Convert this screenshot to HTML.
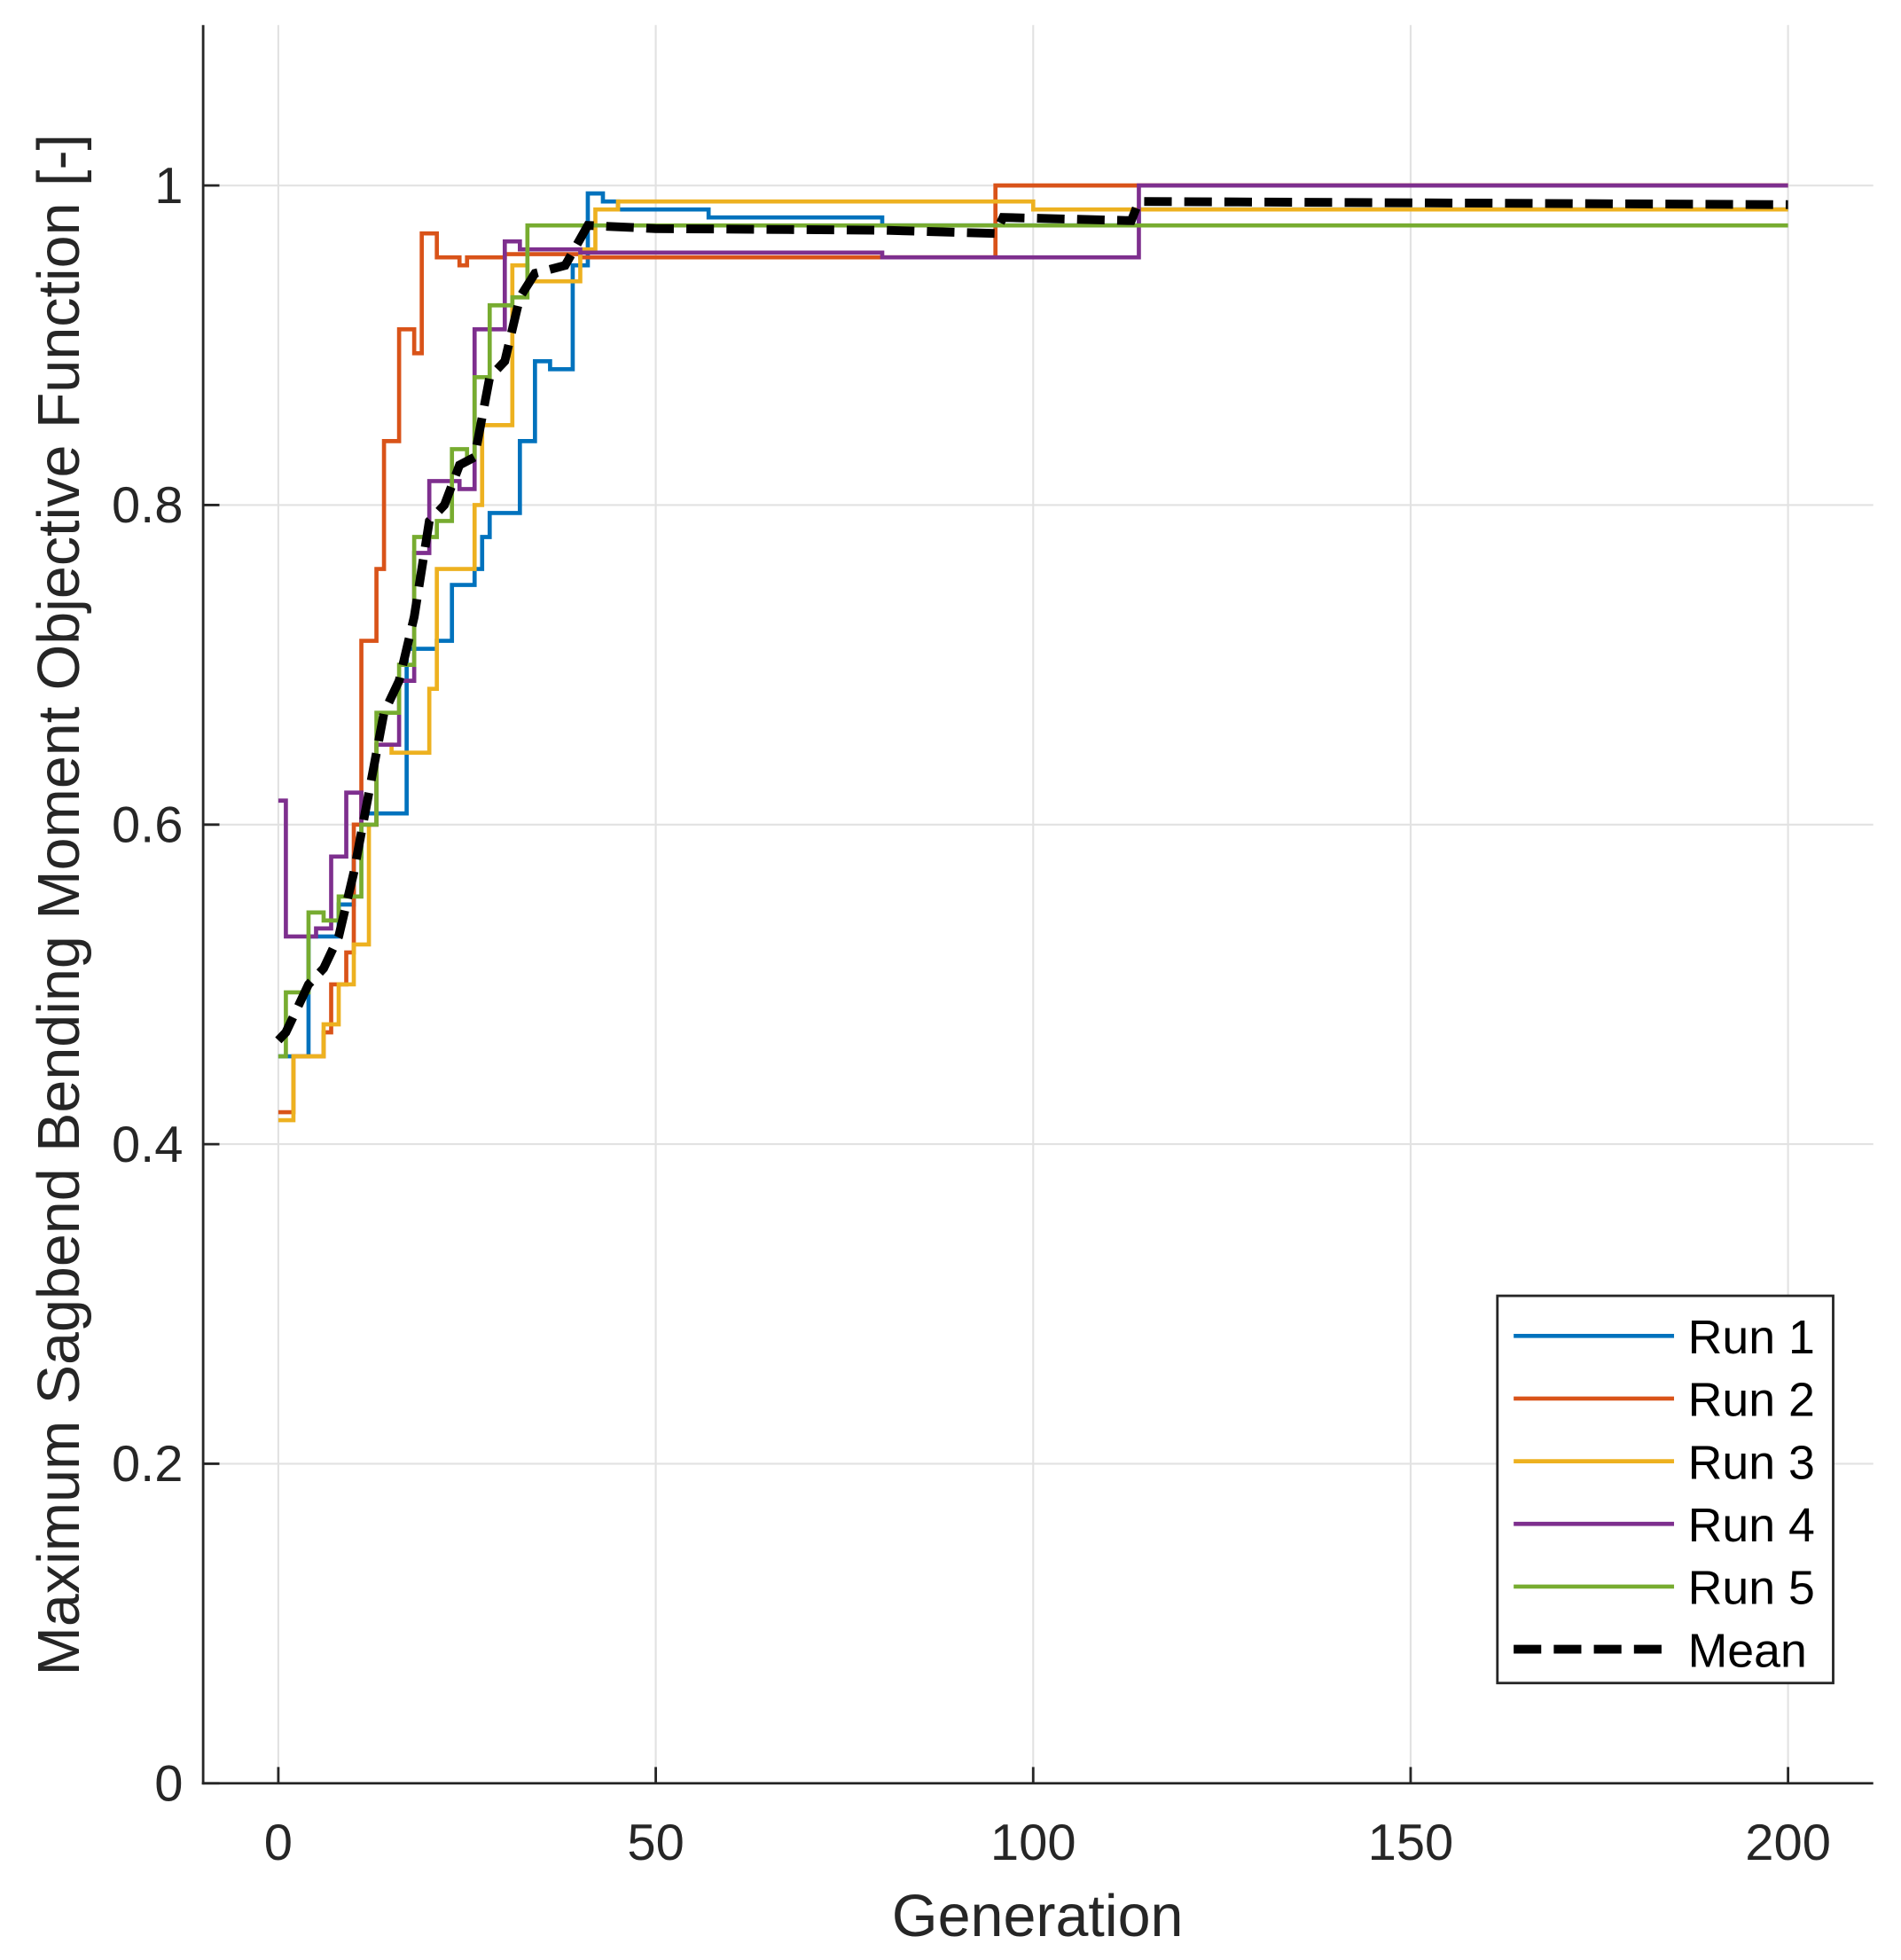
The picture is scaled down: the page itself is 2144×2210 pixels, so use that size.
<!DOCTYPE html>
<html><head><meta charset="utf-8"><style>html,body{margin:0;padding:0;background:#fff}svg{display:block}</style></head>
<body>
<svg id="s" width="2144" height="2210" viewBox="0 0 1517 1564" xmlns="http://www.w3.org/2000/svg" font-family="Liberation Sans, sans-serif">
<rect width="1517" height="1564" fill="#fff"/>
<g id="grid" stroke="#e2e2e2" stroke-width="1.5"></g>
<g id="series" fill="none" stroke-linejoin="miter"></g>
<g stroke="#262626" stroke-width="2" fill="none">
<line x1="162" y1="20" x2="162" y2="1424"/>
<line x1="161" y1="1423" x2="1495" y2="1423"/>
</g>
<g id="ticks" stroke="#262626" stroke-width="2"></g>
<g id="labels" fill="#262626" font-size="41"></g>
<text x="828" y="1545" text-anchor="middle" font-size="47" fill="#262626">Generation</text>
<text transform="translate(63,722) rotate(-90)" text-anchor="middle" font-size="47" fill="#262626">Maximum Sagbend Bending Moment Objective Function [-]</text>
<rect x="1195" y="1034" width="268" height="309" fill="#fff" stroke="#262626" stroke-width="2"/>
<g id="legend" font-size="38" fill="#000"></g>
</svg>
<script>
const NS="http://www.w3.org/2000/svg";
const X=g=>222+6.025*g, Y=v=>1423-1275*v;
function el(p,t,a,txt){const e=document.createElementNS(NS,t);for(const k in a)e.setAttribute(k,a[k]);if(txt!==undefined)e.textContent=txt;document.getElementById(p).appendChild(e);return e;}
[0,50,100,150,200].forEach(g=>{el('grid','line',{x1:X(g),y1:20,x2:X(g),y2:1423});el('ticks','line',{x1:X(g),y1:1423,x2:X(g),y2:1410});el('labels','text',{x:X(g),y:1484,'text-anchor':'middle'},String(g));});
[0,0.2,0.4,0.6,0.8,1].forEach(v=>{el('grid','line',{x1:162,y1:Y(v),x2:1495,y2:Y(v)});el('ticks','line',{x1:162,y1:Y(v),x2:175,y2:Y(v)});el('labels','text',{x:146,y:Y(v)+14,'text-anchor':'end'},v===0?'0':v===1?'1':String(v));});
function step(d){let s='M'+X(d[0][0])+' '+Y(d[0][1]);for(let i=1;i<d.length;i++){s+=' H'+X(d[i][0])+' V'+Y(d[i][1]);}s+=' H'+X(200);return s;}
function poly(d){return 'M'+d.map(p=>X(p[0])+' '+Y(p[1])).join(' L');}
const r1=[[0,.455],[4,.53],[8,.55],[10,.58],[11,.607],[17,.71],[21,.715],[23,.75],[26,.76],[27,.78],[28,.795],[32,.84],[34,.89],[36,.885],[39,.95],[41,.995],[43,.99],[45,.985],[57,.98],[80,.975],[114,.985]];
const r2=[[0,.42],[2,.455],[6,.47],[7,.5],[9,.52],[10,.6],[11,.715],[13,.76],[14,.84],[16,.91],[18,.895],[19,.97],[21,.955],[24,.95],[25,.955],[30,.957],[40,.955],[95,1.0]];
const r3=[[0,.415],[2,.455],[6,.475],[8,.5],[10,.525],[12,.6],[13,.65],[15,.645],[20,.685],[21,.76],[26,.8],[27,.85],[31,.95],[33,.94],[40,.96],[42,.985],[45,.99],[90,.99],[100,.985]];
const r4=[[0,.615],[1,.53],[5,.535],[7,.58],[9,.62],[11,.6],[13,.65],[16,.69],[18,.77],[20,.815],[24,.81],[26,.91],[28,.91],[30,.965],[32,.96],[40,.958],[80,.955],[114,1.0]];
const r5=[[0,.455],[1,.495],[4,.545],[6,.54],[8,.555],[11,.6],[13,.67],[16,.7],[18,.78],[21,.79],[23,.835],[25,.83],[26,.88],[28,.925],[31,.93],[33,.975]];
const mean=[[0,.465],[1,.47],[2,.48],[4,.5],[6,.51],[8,.53],[10,.57],[12,.62],[14,.67],[16,.69],[18,.73],[20,.79],[22,.8],[24,.825],[26,.83],[28,.88],[30,.89],[32,.93],[34,.945],[38,.95],[41,.975],[50,.973],[80,.972],[95,.97],[96,.98],[113,.978],[114,.99],[200,.988]];
const cols=['#0072BD','#D95319','#EDB120','#7E2F8E','#77AC30'];
[r1,r2,r3,r4,r5].forEach((d,i)=>el('series','path',{d:step(d),stroke:cols[i],'stroke-width':3.3}));
el('series','path',{d:poly(mean),stroke:'#000','stroke-width':7,'stroke-dasharray':'22 10'});
const names=['Run 1','Run 2','Run 3','Run 4','Run 5','Mean'];
names.forEach((n,i)=>{const y=1066+50*i;
 el('legend','line',{x1:1208,y1:y,x2:1336,y2:y,stroke:i<5?cols[i]:'#000','stroke-width':i<5?3.3:7,'stroke-dasharray':i<5?'none':'22 10'});
 el('legend','text',{x:1347,y:y+14},n);});
</script>
</body></html>
